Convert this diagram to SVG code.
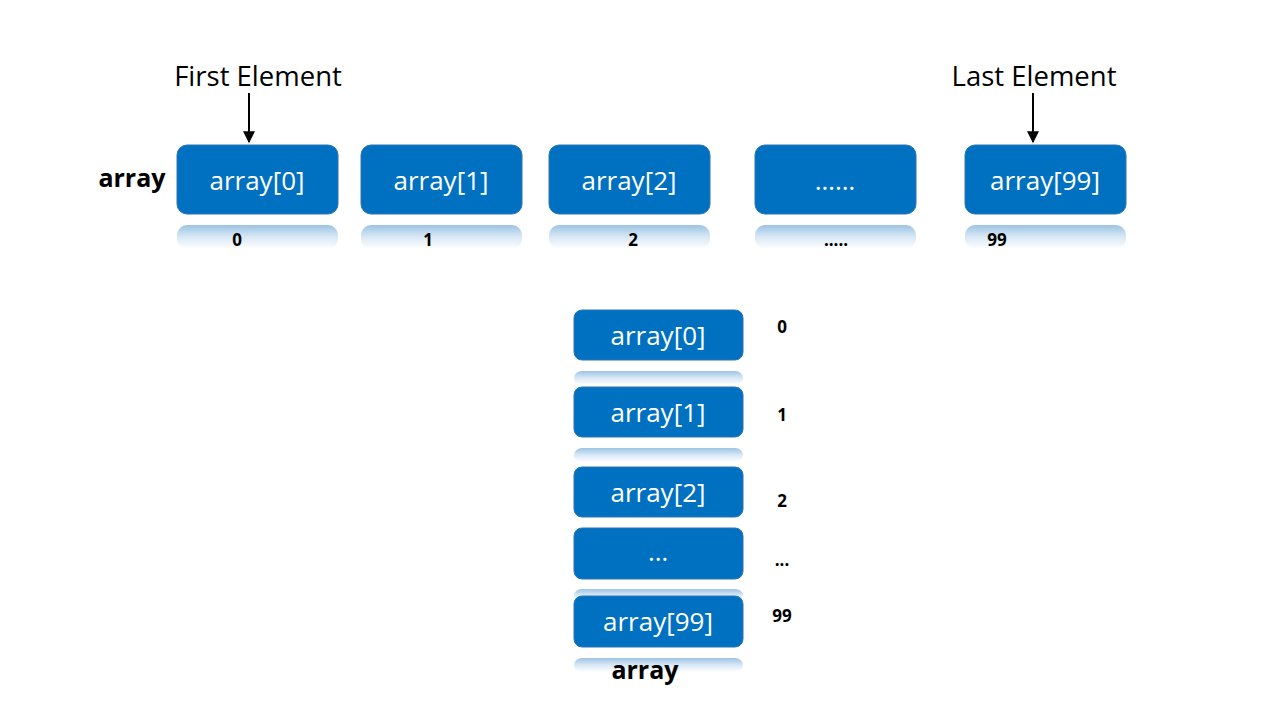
<svg xmlns="http://www.w3.org/2000/svg" width="1280" height="720" viewBox="0 0 1280 720">
<defs>
<linearGradient id="refl" x1="0" y1="0" x2="0" y2="1">
<stop offset="0" stop-color="#9dc3e3"/>
<stop offset="0.5" stop-color="#d8e8f5"/>
<stop offset="1" stop-color="#ffffff"/>
</linearGradient>
<marker id="arr" viewBox="0 0 10 10" refX="9" refY="5" markerWidth="6" markerHeight="6" orient="auto">
<path d="M0,0 L10,5 L0,10 z" fill="#000"/>
</marker>
</defs>
<style>
.box{fill:#0070c0;stroke:#2e75b6;stroke-width:1}
.refl{fill:url(#refl)}
.bt{font-family:"Open Sans","Liberation Sans",sans-serif;font-size:26px;fill:#fff;text-anchor:middle}
.num{font-family:"Open Sans","Liberation Sans",sans-serif;font-size:17px;font-weight:bold;fill:#000;text-anchor:middle}
.lbl{font-family:"Open Sans","Liberation Sans",sans-serif;font-size:25px;font-weight:bold;fill:#000;text-anchor:middle}
.hdr{font-family:"Open Sans","Liberation Sans",sans-serif;font-size:27.5px;fill:#000;text-anchor:middle}
.con{stroke:#000;stroke-width:2;fill:none}
</style>
<rect width="1280" height="720" fill="#fff"/>
<text class="hdr" x="258" y="86">First Element</text>
<text class="hdr" x="1034" y="86">Last Element</text>
<text class="lbl" x="132" y="187">array</text>
<g id="connectors">
<line class="con" x1="249" y1="93" x2="249" y2="142" marker-end="url(#arr)"/>
<line class="con" x1="1033" y1="93" x2="1033" y2="142" marker-end="url(#arr)"/>
</g>
<g id="h0"><rect class="refl" x="177" y="225" width="161" height="24" rx="10"/><rect class="box" x="177" y="145" width="161" height="69" rx="10"/><text class="bt" x="257" y="190">array[0]</text><text class="num" x="237" y="246">0</text></g>
<g id="h1"><rect class="refl" x="361" y="225" width="161" height="24" rx="10"/><rect class="box" x="361" y="145" width="161" height="69" rx="10"/><text class="bt" x="441" y="190">array[1]</text><text class="num" x="428" y="246">1</text></g>
<g id="h2"><rect class="refl" x="549" y="225" width="161" height="24" rx="10"/><rect class="box" x="549" y="145" width="161" height="69" rx="10"/><text class="bt" x="629" y="190">array[2]</text><text class="num" x="633" y="246">2</text></g>
<g id="h3"><rect class="refl" x="755" y="225" width="161" height="24" rx="10"/><rect class="box" x="755" y="145" width="161" height="69" rx="10"/><text class="bt" x="835" y="190">……</text><text class="num" x="836" y="246">.....</text></g>
<g id="h4"><rect class="refl" x="965" y="225" width="161" height="24" rx="10"/><rect class="box" x="965" y="145" width="161" height="69" rx="10"/><text class="bt" x="1045" y="190">array[99]</text><text class="num" x="997" y="246">99</text></g>
<g id="v0"><rect class="refl" x="574" y="371" width="169" height="14" rx="8"/><rect class="box" x="574" y="310" width="169" height="50" rx="8"/><text class="bt" x="658" y="345">array[0]</text><text class="num" x="782" y="333">0</text></g>
<g id="v1"><rect class="refl" x="574" y="448" width="169" height="14" rx="8"/><rect class="box" x="574" y="387" width="169" height="50" rx="8"/><text class="bt" x="658" y="422">array[1]</text><text class="num" x="782" y="421">1</text></g>
<g id="v2"><rect class="box" x="574" y="467" width="169" height="50" rx="8"/><text class="bt" x="658" y="502">array[2]</text><text class="num" x="782" y="507">2</text></g>
<g id="v3"><rect class="refl" x="574" y="589" width="169" height="12" rx="8"/><rect class="box" x="574" y="528" width="169" height="51" rx="8"/><text class="bt" x="658" y="561">…</text><text class="num" x="782" y="566">...</text></g>
<g id="v4"><rect class="refl" x="574" y="658" width="169" height="14" rx="8"/><rect class="box" x="574" y="596" width="169" height="51" rx="8"/><text class="bt" x="658" y="631">array[99]</text><text class="num" x="782" y="622">99</text></g>
<text class="lbl" x="645" y="679">array</text>
</svg>
